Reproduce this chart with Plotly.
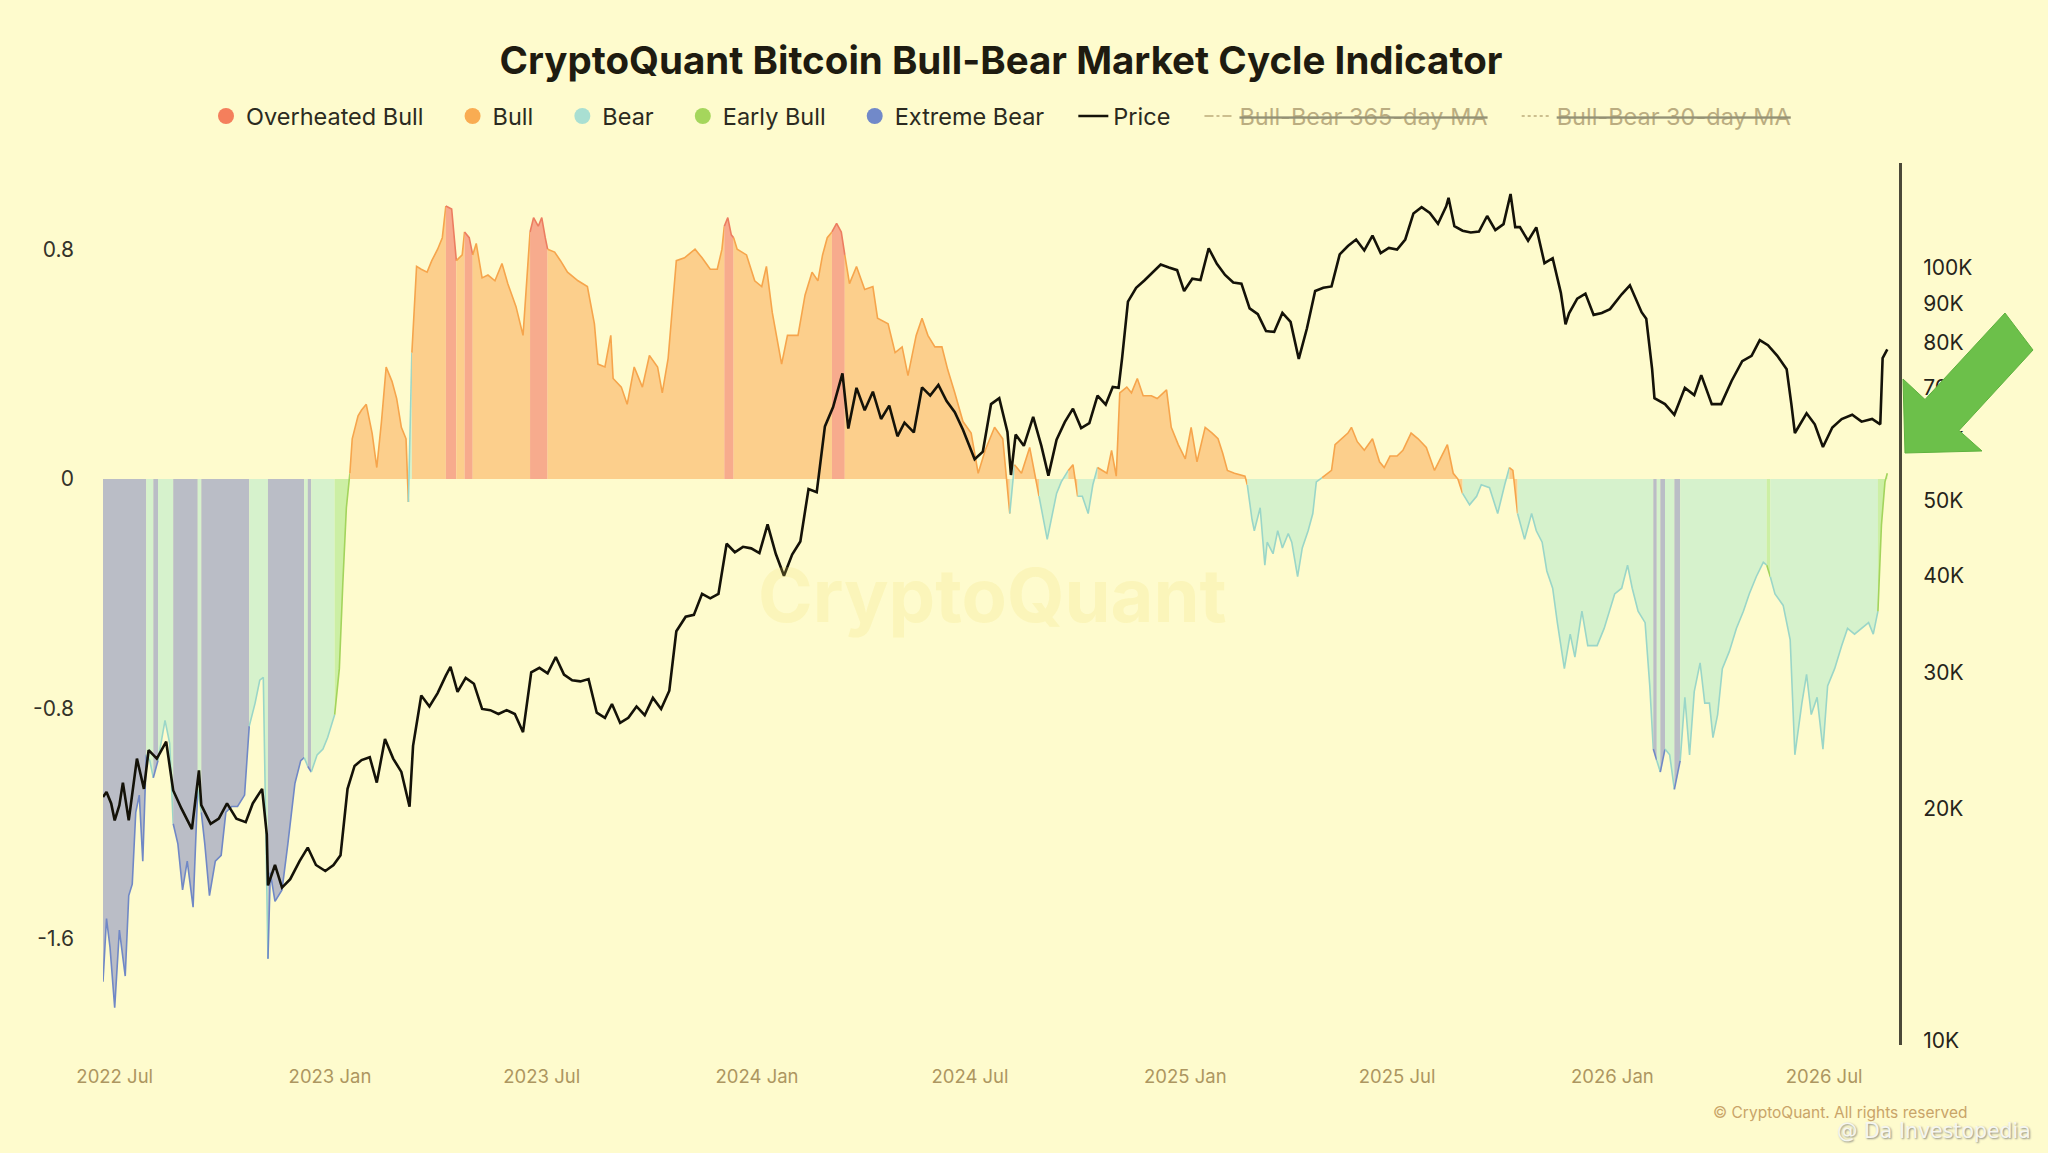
import pandas as pd
import plotly.graph_objects as go

BASE = pd.Timestamp("2022-07-01")

# ---- Bull-Bear indicator (day offset from 2022-07-01, value, state) ----
ind_day = [
    -10, -7, -4, 0, 4, 9, 12, 15, 18, 21,
    24, 27, 30, 33, 37, 43, 47, 50, 54, 58,
    62, 67, 71, 74, 77, 81, 86, 91, 95, 100,
    105, 111, 115, 120, 124, 127, 131, 133, 137, 143,
    148, 154, 159, 162, 165, 168, 173, 178, 182, 188,
    192, 195, 198, 201, 203, 208, 211, 215, 220, 224,
    228, 232, 237, 241, 245, 249, 251, 254, 258, 262,
    267, 271, 276, 280, 283, 288, 292, 297, 299, 303,
    306, 309, 314, 319, 325, 331, 336, 343, 349, 353,
    355, 358, 362, 365, 368, 370, 376, 381, 387, 396,
    404, 410, 413, 419, 424, 426, 433, 438, 444, 451,
    457, 464, 468, 473, 477, 480, 487, 496, 502, 509,
    515, 519, 521, 524, 527, 529, 532, 540, 547, 553,
    557, 562, 570, 575, 584, 590, 596, 601, 605, 609,
    613, 617, 621, 624, 628, 634, 641, 648, 652, 661,
    667, 673, 678, 685, 690, 695, 701, 707, 712, 718,
    725, 732, 738, 744, 752, 759, 765, 769, 775, 782,
    786, 790, 797, 805, 809, 815, 819, 823, 827, 832,
    836, 840, 848, 852, 856, 859, 865, 869, 874, 879,
    886, 891, 899, 903, 909, 915, 920, 925, 932, 938,
    943, 947, 951, 957, 966, 968, 972, 974, 979, 983,
    985, 990, 994, 998, 1003, 1006, 1011, 1015, 1020, 1024,
    1027, 1032, 1040, 1043, 1049, 1054, 1057, 1062, 1068, 1075,
    1081, 1085, 1090, 1096, 1101, 1108, 1114, 1121, 1128, 1134,
    1139, 1144, 1148, 1152, 1158, 1164, 1168, 1175, 1182, 1188,
    1192, 1195, 1199, 1205, 1211, 1215, 1220, 1224, 1229, 1233,
    1239, 1244, 1248, 1254, 1259, 1267, 1273, 1282, 1288, 1293,
    1297, 1302, 1308, 1312, 1315, 1318, 1321, 1325, 1329, 1333,
    1338, 1342, 1346, 1350, 1355, 1359, 1363, 1366, 1370, 1374,
    1380, 1386, 1392, 1397, 1403, 1409, 1412, 1415, 1419, 1426,
    1432, 1436, 1442, 1446, 1450, 1455, 1460, 1464, 1470, 1476,
    1481, 1487, 1493, 1499, 1503, 1507, 1510, 1513, 1515,
]
ind_value = [
    -1.75, -1.53, -1.63, -1.84, -1.57, -1.73, -1.45, -1.41, -1.16, -1.10,
    -1.33, -0.96, -0.98, -1.04, -0.98, -0.84, -0.92, -1.20, -1.27, -1.43,
    -1.33, -1.49, -1.08, -1.16, -1.27, -1.45, -1.33, -1.31, -1.16, -1.14,
    -1.14, -1.10, -0.86, -0.78, -0.70, -0.69, -1.67, -1.37, -1.47, -1.43,
    -1.27, -1.06, -0.98, -0.97, -1.00, -1.02, -0.96, -0.94, -0.90, -0.82,
    -0.66, -0.36, -0.10, 0.02, 0.14, 0.22, 0.24, 0.26, 0.16, 0.04,
    0.20, 0.39, 0.34, 0.28, 0.18, 0.14, -0.08, 0.44, 0.74, 0.73,
    0.72, 0.76, 0.80, 0.84, 0.95, 0.94, 0.76, 0.78, 0.86, 0.84,
    0.78, 0.82, 0.70, 0.71, 0.69, 0.75, 0.68, 0.60, 0.50, 0.74,
    0.86, 0.91, 0.88, 0.91, 0.84, 0.80, 0.79, 0.76, 0.72, 0.69,
    0.67, 0.54, 0.40, 0.39, 0.50, 0.35, 0.32, 0.26, 0.39, 0.32,
    0.43, 0.39, 0.30, 0.42, 0.62, 0.76, 0.77, 0.80, 0.77, 0.73,
    0.73, 0.80, 0.88, 0.91, 0.85, 0.84, 0.80, 0.78, 0.69, 0.67,
    0.74, 0.58, 0.40, 0.50, 0.50, 0.64, 0.72, 0.69, 0.78, 0.84,
    0.86, 0.89, 0.86, 0.78, 0.68, 0.74, 0.66, 0.67, 0.56, 0.54,
    0.44, 0.46, 0.36, 0.50, 0.56, 0.50, 0.46, 0.46, 0.38, 0.30,
    0.20, 0.16, 0.02, 0.10, 0.18, 0.14, -0.12, 0.05, 0.02, 0.11,
    0.02, -0.06, -0.21, -0.05, -0.01, 0.03, 0.05, -0.06, -0.06, -0.12,
    -0.02, 0.04, 0.02, 0.10, 0.01, 0.30, 0.32, 0.30, 0.35, 0.29,
    0.29, 0.28, 0.31, 0.18, 0.12, 0.07, 0.18, 0.06, 0.18, 0.16,
    0.14, 0.09, 0.03, 0.02, 0.01, -0.02, -0.14, -0.18, -0.10, -0.30,
    -0.22, -0.26, -0.18, -0.24, -0.19, -0.22, -0.34, -0.24, -0.18, -0.12,
    -0.01, 0.005, 0.03, 0.12, 0.14, 0.16, 0.18, 0.13, 0.10, 0.14,
    0.06, 0.04, 0.08, 0.08, 0.10, 0.16, 0.14, 0.11, 0.03, 0.08,
    0.12, 0.02, 0.00, -0.05, -0.09, -0.06, -0.02, -0.03, -0.12, -0.02,
    0.04, 0.03, -0.12, -0.21, -0.12, -0.18, -0.22, -0.32, -0.38, -0.50,
    -0.66, -0.54, -0.62, -0.46, -0.58, -0.58, -0.52, -0.40, -0.38, -0.30,
    -0.38, -0.46, -0.50, -0.72, -0.94, -0.98, -1.02, -0.94, -0.96, -1.08,
    -0.98, -0.76, -0.96, -0.74, -0.64, -0.78, -0.78, -0.90, -0.82, -0.66,
    -0.60, -0.52, -0.46, -0.40, -0.34, -0.29, -0.30, -0.34, -0.40, -0.44,
    -0.56, -0.96, -0.78, -0.68, -0.82, -0.76, -0.94, -0.72, -0.66, -0.58,
    -0.52, -0.54, -0.52, -0.50, -0.54, -0.46, -0.16, -0.01, 0.02,
]
# X = Extreme Bear, R = Bear, G = Early Bull, U = Bull, O = Overheated Bull
ind_state = list("".join([
    "XXXXXXXXXX", "XRRXRRRXXX", "XXRXXXXXXX", "XXRRRRXXXX", "XXXRXRRRRG",
    "GGGUUUUUUU", "UUUUUURUUU", "UUUUOOUUOO", "UUUUUUUUUU", "OOOOOUUUUU",
    "UUUUUUUUUU", "UUUUUUUUUU", "UUOOOUUUUU", "UUUUUUUUUU", "OOOUUUUUUU",
    "UUUUUUUUUU", "UUUUUURUUU", "URRRRUURRR", "RUUUUUUUUU", "UUUUUUUUUU",
    "UUUUURRRRR", "RRRRRRRRRR", "RUUUUUUUUU", "UUUUUUUUUU", "UUURRRRRRR",
    "UURRRRRRRR", "RRRRRRRRRR", "RRRRXRXRRX", "RRRRRRRRRR", "RRRRRRGRRR",
    "RRRRRRRRRR", "RRRRRGGGU",
]))

# ---- BTC price, thousands of USD (day offset from 2022-07-01) ----
price_day = [
    -10, -7, -3, 0, 4, 7, 12, 19, 25, 29,
    36, 44, 50, 57, 66, 72, 74, 82, 89, 96,
    104, 112, 118, 126, 130, 131, 137, 143, 150, 158,
    165, 172, 180, 187, 193, 199, 205, 211, 218, 224,
    231, 238, 245, 252, 255, 262, 269, 276, 283, 287,
    293, 300, 307, 314, 321, 328, 335, 342, 349, 356,
    363, 370, 377, 384, 391, 398, 405, 412, 419, 425,
    432, 439, 446, 453, 460, 467, 474, 480, 488, 495,
    502, 509, 516, 523, 530, 537, 544, 551, 558, 565,
    572, 579, 586, 593, 600, 607, 614, 620, 622, 627,
    634, 641, 648, 655, 662, 669, 675, 683, 690, 697,
    704, 711, 718, 725, 735, 742, 749, 756, 763, 766,
    770, 777, 785, 792, 798, 805, 812, 819, 826, 833,
    840, 847, 853, 858, 861, 866, 873, 880, 887, 894,
    901, 908, 914, 921, 928, 935, 942, 949, 956, 963,
    970, 977, 984, 991, 998, 1005, 1012, 1019, 1026, 1033,
    1040, 1047, 1054, 1061, 1068, 1075, 1082, 1089, 1096, 1103,
    1110, 1117, 1124, 1131, 1138, 1140, 1145, 1152, 1159, 1166,
    1173, 1180, 1187, 1193, 1197, 1201, 1208, 1215, 1222, 1229,
    1236, 1240, 1243, 1250, 1257, 1264, 1271, 1278, 1288, 1295,
    1305, 1309, 1314, 1316, 1325, 1333, 1342, 1350, 1356, 1365,
    1373, 1382, 1391, 1399, 1406, 1413, 1421, 1429, 1433, 1436,
    1446, 1453, 1460, 1468, 1476, 1485, 1493, 1502, 1509, 1511,
    1515,
]
price_k = [
    20.7, 21.0, 20.3, 19.3, 20.2, 21.6, 19.3, 23.2, 21.2, 23.8,
    23.2, 24.4, 21.1, 20.0, 18.8, 22.4, 20.2, 19.1, 19.4, 20.3,
    19.4, 19.2, 20.3, 21.2, 18.5, 15.9, 16.9, 15.8, 16.2, 17.1,
    17.8, 16.9, 16.6, 16.9, 17.4, 21.2, 22.7, 23.1, 23.3, 21.6,
    24.6, 23.2, 22.3, 20.1, 24.1, 28.0, 27.1, 28.2, 29.7, 30.5,
    28.3, 29.5, 29.0, 26.9, 26.8, 26.5, 26.8, 26.5, 25.1, 30.0,
    30.4, 29.9, 31.4, 29.8, 29.3, 29.2, 29.4, 26.6, 26.2, 27.3,
    25.8, 26.2, 27.1, 26.4, 27.8, 26.9, 28.4, 33.9, 35.4, 35.6,
    37.9, 37.4, 37.9, 44.0, 42.9, 43.6, 43.4, 42.8, 46.6, 42.7,
    40.0, 42.6, 44.3, 51.8, 51.3, 62.4, 66.1, 71.5, 73.1, 62.0,
    70.0, 65.5, 69.2, 63.8, 66.4, 60.6, 63.1, 61.3, 70.1, 68.4,
    70.6, 67.3, 65.1, 61.8, 56.6, 57.9, 66.7, 67.9, 61.4, 54.0,
    60.9, 58.9, 64.2, 58.9, 53.9, 60.0, 63.2, 65.8, 62.1, 63.0,
    68.4, 66.6, 70.2, 70.0, 76.5, 90.5, 94.3, 96.4, 98.8, 101.1,
    100.2, 99.4, 93.4, 96.9, 96.5, 106.1, 101.3, 98.0, 95.8, 95.5,
    88.7, 87.2, 82.9, 82.7, 87.5, 85.2, 76.3, 83.6, 93.4, 94.3,
    94.7, 104.2, 106.8, 108.9, 105.4, 110.2, 104.6, 106.2, 105.7, 108.9,
    117.7, 119.9, 117.9, 114.1, 120.2, 123.3, 113.3, 111.8, 111.2, 111.5,
    116.8, 112.0, 114.0, 124.7, 113.0, 113.0, 108.5, 112.9, 101.5, 103.0,
    92.9, 84.6, 87.4, 91.3, 92.7, 87.0, 87.5, 88.5, 92.5, 95.0,
    87.7, 86.0, 74.0, 67.9, 66.7, 64.6, 70.0, 68.5, 72.7, 66.7,
    66.7, 71.5, 75.8, 77.0, 80.7, 79.5, 77.0, 74.0, 66.7, 61.2,
    64.9, 62.8, 58.7, 62.2, 63.8, 64.6, 63.3, 63.8, 62.8, 76.5,
    78.5,
]

price_ticks = [10, 20, 30, 40, 50, 60, 70, 80, 90, 100]
price_tick_text = ["10K", "20K", "30K", "40K", "50K", "60K", "70K", "80K", "90K", "100K"]
ind_ticks = [-1.6, -0.8, 0, 0.8]
ind_tick_text = ["-1.6", "-0.8", "0", "0.8"]

if not (len(ind_day) == len(ind_value) == len(ind_state)):
    raise ValueError(f"indicator lengths {len(ind_day)} {len(ind_value)} {len(ind_state)}")
if len(price_day) != len(price_k):
    raise ValueError(f"price lengths {len(price_day)} {len(price_k)}")

ind_dates = [BASE + pd.Timedelta(days=d) for d in ind_day]
price_dates = [BASE + pd.Timedelta(days=d) for d in price_day]

BG = "#fefbcd"
states = [
    # code, legend name, legend colour, fill colour, edge colour
    ("X", "Extreme Bear", "#7189c9", "#babdc6", "#7088c6"),
    ("R", "Bear", "#a9dfd2", "#d6f2cc", "#9ad6c8"),
    ("G", "Early Bull", "#a5d65c", "#ccefa4", "#a3d45c"),
    ("U", "Bull", "#f9ac52", "#fccf8c", "#f6a54c"),
    ("O", "Overheated Bull", "#f47f5c", "#f7ab8d", "#ec7d60"),
]
style = {s[0]: s for s in states}
legend_order = ["O", "U", "R", "G", "X"]
PAD = "\u00a0" * 3 + "\u2009"

fig = go.Figure()

# one filled area per run of identical state (each run shares its end point with the next run)
n = len(ind_state)
i = 0
while i < n:
    j = i
    while j < n and ind_state[j] == ind_state[i]:
        j += 1
    end = min(j, n - 1)
    if end > i:
        _, _, _, fcol, ecol = style[ind_state[i]]
        fig.add_trace(go.Scatter(
            x=ind_dates[i:end + 1], y=ind_value[i:end + 1], mode="lines",
            fill="tozeroy", fillcolor=fcol, line=dict(color=ecol, width=1.6),
            showlegend=False, hoverinfo="skip", yaxis="y",
        ))
    i = j

for code in legend_order:
    _, name, lcol, _, _ = style[code]
    fig.add_trace(go.Scatter(
        x=[None], y=[None], mode="markers", name=name + PAD,
        marker=dict(color=lcol, size=16, symbol="circle"),
        showlegend=True,
    ))

fig.add_trace(go.Scatter(
    x=price_dates, y=price_k, mode="lines", name="Price" + PAD,
    line=dict(color="#141208", width=2.6), yaxis="y2",
))

fig.add_trace(go.Scatter(
    x=[None], y=[None], mode="lines", visible="legendonly",
    name="<s><span style='color:#7a6235'>Bull-Bear 365-day MA</span></s>" + PAD,
    line=dict(color="#9c8450", width=2, dash="dashdot"), yaxis="y",
))
fig.add_trace(go.Scatter(
    x=[None], y=[None], mode="lines", visible="legendonly",
    name="<s><span style='color:#7a6235'>Bull-Bear 30-day MA</span></s>",
    line=dict(color="#9c8450", width=2, dash="dot"), yaxis="y",
))

# arrow overlay (decoration)
arrow_path = ("M 1.00334 0.67120 L 1.00223 0.75510 L 1.01448 0.73186 L 1.05902 0.82993 "
              "L 1.07461 0.78798 L 1.03341 0.69671 L 1.04621 0.67347 Z")

fig.update_layout(
    width=2048, height=1153,
    paper_bgcolor=BG, plot_bgcolor=BG,
    margin=dict(l=103, r=149, t=163, b=108),
    font=dict(family="Inter, Noto Sans, sans-serif", color="#2b2a20"),
    title=dict(
        text="CryptoQuant Bitcoin Bull-Bear Market Cycle Indicator",
        x=0.5, xref="paper", xanchor="center",
        y=1 - 61 / 1153, yref="container", yanchor="middle",
        font=dict(size=38.5, weight=700, color="#1e1b10", family="Inter, sans-serif"),
    ),
    legend=dict(
        orientation="h", x=0.5, xanchor="center", y=1.053, yanchor="middle",
        font=dict(size=23.5, color="#2b2a20"), bgcolor="rgba(0,0,0,0)",
        itemclick=False, itemdoubleclick=False, traceorder="normal",
    ),
    xaxis=dict(
        type="date", range=["2022-06-21", "2026-09-03"],
        tick0="2022-07-01", dtick="M6", tickformat="%Y %b",
        showgrid=False, zeroline=False, showline=False, ticks="",
        tickfont=dict(size=18.5, color="#ad9660"), ticklabelstandoff=18,
    ),
    yaxis=dict(
        range=[-1.97, 1.10], tickvals=ind_ticks, ticktext=ind_tick_text,
        showgrid=False, zeroline=False, showline=False, ticks="",
        tickfont=dict(size=21, color="#34322a"), ticklabelstandoff=28,
    ),
    yaxis2=dict(
        overlaying="y", side="right", type="log", range=[0.995, 2.136],
        tickvals=price_ticks, ticktext=price_tick_text,
        showgrid=False, zeroline=False, showline=True,
        linecolor="#4b4838", linewidth=3, ticks="",
        tickfont=dict(size=21, color="#26241a"), ticklabelstandoff=17,
    ),
    shapes=[dict(
        type="path", xref="paper", yref="paper", path=arrow_path,
        fillcolor="#6cc04a", line=dict(color="#5fb23f", width=1), layer="above",
    )],
    annotations=[
        dict(text="<b>CryptoQuant</b>", xref="paper", yref="paper", x=0.495, y=0.51,
             xanchor="center", yanchor="middle", showarrow=False,
             font=dict(size=74, color="rgba(240,226,110,0.20)")),
        dict(text="© CryptoQuant. All rights reserved", xref="paper", yref="paper",
             x=(1840 - 103) / 1796, y=(1045 - 1112) / 882,
             xanchor="center", yanchor="middle", showarrow=False,
             font=dict(size=15.5, color="#c9a468")),
        dict(text="@ Da Investopedia", xref="paper", yref="paper",
             x=(1934 - 103) / 1796, y=(1045 - 1131) / 882,
             xanchor="center", yanchor="middle", showarrow=False,
             font=dict(size=20.5, family="DejaVu Sans", color="#f6f6f0",
                       shadow="1px 1px 2px #8a8a80")),
    ],
)

fig.write_html(
    "out.html",
    config={"displayModeBar": False},
    post_script="document.body.style.margin='0';document.body.style.background='#fefbcd';",
)
